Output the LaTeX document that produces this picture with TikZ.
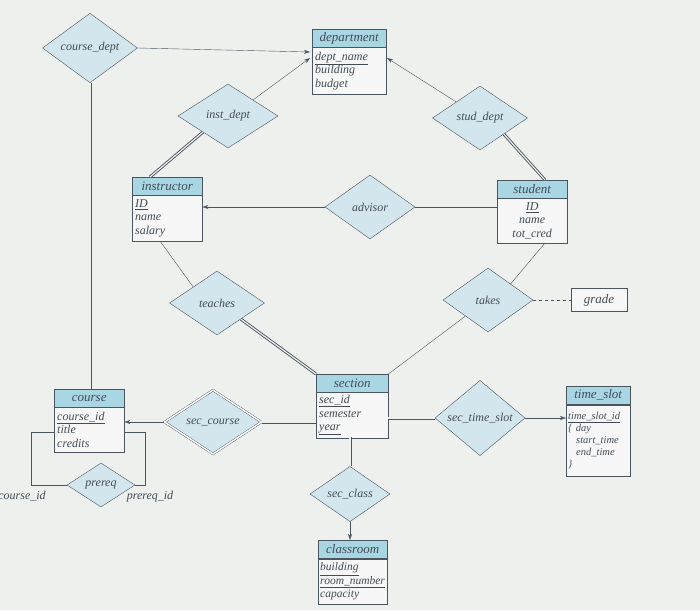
\documentclass[tikz,border=0pt]{standalone}
\usetikzlibrary{shapes.geometric,arrows.meta}
\usepackage{fontspec}
\setmainfont{Liberation Serif}
\definecolor{hdr}{HTML}{A9D6E3}
\definecolor{dia}{HTML}{D3E6EE}
\definecolor{lnc}{HTML}{4A5560}
\definecolor{bg}{HTML}{EEF0EE}
\definecolor{bodyc}{HTML}{F6F7F6}
\begin{document}
\begin{tikzpicture}[x=1pt,y=-1pt,
  every node/.style={font=\fontsize{12}{13.5}\selectfont\itshape, text=lnc!90!black},
  hdrbox/.style={draw=lnc, fill=hdr, anchor=north west, minimum height=18, inner sep=1pt, font=\fontsize{13}{14}\selectfont\itshape},
  bodybox/.style={draw=lnc, fill=bodyc, anchor=north west, align=left, inner xsep=3pt, inner ysep=3pt},
  rel/.style={draw=lnc, fill=dia, diamond, inner sep=0pt},
  dbl/.style={draw=lnc, line width=3pt, postaction={draw=bg, line width=1.2pt}},
  ar/.style={draw=lnc, -{Stealth[length=6pt,width=4pt]}},
  sline/.style={draw=lnc}]
\fill[bg] (0,0) rectangle (700,610);
\useasboundingbox (0,0) rectangle (700,610);
% connectors behind
\coordinate (secbot) at (350,437);
\coordinate (insttop) at (150,177);
\coordinate (studtop) at (545,180);
\coordinate (instbot) at (160,241);
\coordinate (studbot) at (545,243);
\coordinate (deptL) at (310,58);
\coordinate (deptLa) at (310,52);
\coordinate (deptR) at (387,58);
\coordinate (pl1) at (31,432);
\coordinate (pl2) at (31,485);
\coordinate (pr1) at (145,432);
\coordinate (pr2) at (145,485);
% entities
\node[hdrbox, minimum width=74] (dept) at (312,29) {department};
\node[bodybox, minimum width=74, text width=68, minimum height=47] (deptb) at (312,47) {\underline{dept\_name}\\building\\budget};
\node[hdrbox, minimum width=70] (inst) at (132,177) {instructor};
\node[bodybox, minimum width=70, text width=64, minimum height=46] (instb) at (132,195) {\underline{ID}\\name\\salary};
\node[hdrbox, minimum width=70] (stud) at (497,180) {student};
\node[bodybox, minimum width=70, text width=64, minimum height=45, align=center] (studb) at (497,198) {\underline{ID}\\name\\tot\_cred};
\node[hdrbox, minimum width=72] (sect) at (316,374) {section};
\node[bodybox, minimum width=72, text width=66, minimum height=45] (sectb) at (316,392) {\underline{sec\_id}\\semester\\\underline{year}};
\node[hdrbox, minimum width=70] (course) at (54,389) {course};
\node[bodybox, minimum width=70, text width=64, minimum height=45] (courseb) at (54,407) {\underline{course\_id}\\title\\credits};
\node[hdrbox, minimum width=64] (ts) at (566,386) {time\_slot};
\node[bodybox, minimum width=64, text width=60, minimum height=71, inner xsep=2pt, font=\fontsize{10.5}{12}\selectfont\itshape] (tsb) at (566,405) {\underline{time\_slot\_id}\\\{ day\\\hspace*{8pt}start\_time\\\hspace*{8pt}end\_time\\\}};
\node[hdrbox, minimum width=69] (room) at (318,540) {classroom};
\node[bodybox, minimum width=69, text width=65, minimum height=45, inner xsep=2pt, font=\fontsize{11.5}{13.5}\selectfont\itshape] (roomb) at (318,559) {\underline{building}\\\underline{room\_number}\\capacity};
\node[draw=lnc, fill=bodyc, minimum width=56, minimum height=23, font=\fontsize{13}{14}\selectfont\itshape] (grade) at (599,300) {grade};
% relationships
\node[rel, minimum width=95, minimum height=64] (cd) at (90,48) {course\_dept};
\node[rel, minimum width=100, minimum height=64] (id) at (228,116) {inst\_dept};
\node[rel, minimum width=95, minimum height=64] (sd) at (480,118) {stud\_dept};
\node[rel, minimum width=90, minimum height=64] (adv) at (370,207) {advisor};
\node[rel, minimum width=95, minimum height=64] (teach) at (217,303) {teaches};
\node[rel, minimum width=90, minimum height=64] (takes) at (488,300) {takes};
\node[rel, minimum width=97, minimum height=64, double, double distance=1.5pt] (sc) at (213,422) {sec\_course};
\node[rel, minimum width=90, minimum height=64] (sts) at (480,418) {sec\_time\_slot};
\node[rel, minimum width=80, minimum height=54] (scl) at (350,494) {sec\_class};
\node[rel, minimum width=68, minimum height=44] (pre) at (101,485) {prereq};
\node[anchor=north] (lc) at (22,488) {course\_id};
\node[anchor=north] (lp) at (150,488) {prereq\_id};
% connectors
\begin{scope}[on background layer/.style={}]
\draw[ar] (cd.east) -- (deptLa);
\draw[ar] (id.north east) -- (deptL);
\draw[ar] (sd.north west) -- (deptR);
\draw[dbl] (id.south west) -- (insttop);
\draw[dbl] (sd.south east) -- (studtop);
\draw[ar] (adv.west) -- (instb.east |- adv.west);
\draw[sline] (adv.east) -- (studb.west |- adv.east);
\draw[sline] (instbot) -- (teach.north west);
\draw[dbl] (teach.south east) -- (sect.north west);
\draw[sline] (studbot) -- (takes.north east);
\draw[sline] (takes.south west) -- (sect.north east);
\draw[sline, dashed] (takes.east) -- (grade.west);
\draw[dbl] (sc.east) -- (sectb.west |- sc.east);
\draw[ar] (sc.west) -- (courseb.east |- sc.west);
\draw[dbl] (sts.west) -- (sectb.east |- sts.west);
\draw[ar] (sts.east) -- (tsb.west |- sts.east);
\draw[dbl] (secbot) -- (scl.north);
\draw[ar] (scl.south) -- (room.north -| scl.south);
\draw[dbl] (cd.south) -- (course.north -| cd.south);
\draw[sline] (courseb.west |- pl1) -- (pl1) -- (pl2) -- (pre.west);
\draw[sline] (courseb.east |- pr1) -- (pr1) -- (pr2) -- (pre.east);
\end{scope}
\end{tikzpicture}
\end{document}
